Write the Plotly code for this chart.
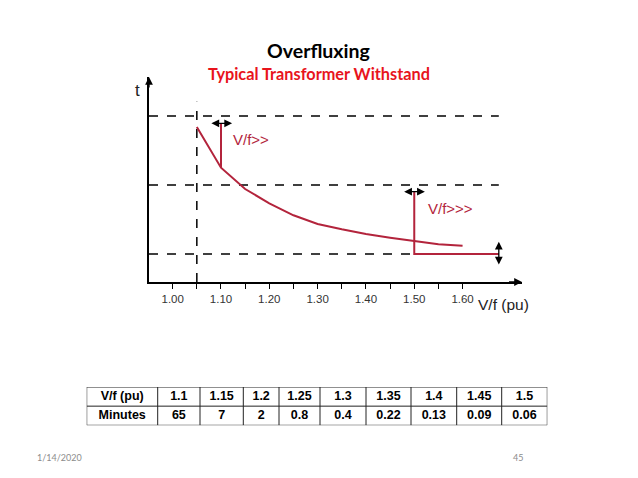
import plotly.graph_objects as go

W, H = 638, 478

# ---- data ----
curve_x = [1.05, 1.10, 1.15, 1.20, 1.25, 1.30, 1.35, 1.40, 1.45, 1.50, 1.55, 1.60]
curve_t = [155.0, 114.3, 93.0, 78.7, 66.7, 58.0, 52.7, 48.0, 44.3, 40.7, 37.7, 36.3]
dash_levels = [166, 97, 28]
dash_x_vert = 1.05
step1_x = 1.10
step1_t = [114.3, 158.7]
step2_x = 1.50
step2_t = [28, 90.3]
step2_end_x = 1.675
tick_vals = [1.00, 1.05, 1.10, 1.15, 1.20, 1.25, 1.30, 1.35, 1.40, 1.45, 1.50, 1.55, 1.60]
tick_text = ["1.00", "", "1.10", "", "1.20", "", "1.30", "", "1.40", "", "1.50", "", "1.60"]

table_vf = ["V/f (pu)", "1.1", "1.15", "1.2", "1.25", "1.3", "1.35", "1.4", "1.45", "1.5"]
table_min = ["Minutes", "65", "7", "2", "0.8", "0.4", "0.22", "0.13", "0.09", "0.06"]
col_widths = [71, 42.3, 43.3, 35.7, 41, 46, 45, 45.7, 45, 45.6]

RED = "#b3243c"
XMIN, XMAX = 0.951, 1.723
YMIN, YMAX = 0, 205

fig = go.Figure()

# dashed guide lines
for lv in dash_levels:
    fig.add_trace(go.Scatter(x=[XMIN, step2_end_x], y=[lv, lv], mode="lines",
                             line=dict(color="black", width=1.5, dash="dash"),
                             hoverinfo="skip", showlegend=False))
fig.add_trace(go.Scatter(x=[dash_x_vert, dash_x_vert], y=[0, 180.3], mode="lines",
                         line=dict(color="black", width=1.5, dash="dash"),
                         hoverinfo="skip", showlegend=False))

# withstand curve
fig.add_trace(go.Scatter(x=curve_x, y=curve_t, mode="lines",
                         line=dict(color=RED, width=2), showlegend=False))
# V/f>> step
fig.add_trace(go.Scatter(x=[step1_x, step1_x], y=step1_t, mode="lines",
                         line=dict(color=RED, width=2), showlegend=False))
# V/f>>> step
fig.add_trace(go.Scatter(x=[step2_x, step2_x, step2_end_x], y=[step2_t[1], step2_t[0], step2_t[0]],
                         mode="lines", line=dict(color=RED, width=2), showlegend=False))

# ---- table on its own axes ----
edges = [0]
for w in col_widths:
    edges.append(edges[-1] + w)
centers = [(edges[i] + edges[i + 1]) / 2 for i in range(len(col_widths))]
total_w = edges[-1]

shapes = []
for e in edges:
    shapes.append(dict(type="line", xref="x2", yref="y2", x0=e, x1=e, y0=0, y1=2,
                       line=dict(color="#222", width=1)))
for r in [0, 1, 2]:
    shapes.append(dict(type="line", xref="x2", yref="y2", x0=0, x1=total_w, y0=r, y1=r,
                       line=dict(color="#222", width=1)))

cell_font = dict(family="Liberation Sans, Arial", size=12.5, color="black")
fig.add_trace(go.Scatter(x=centers, y=[1.5] * len(centers), mode="text",
                         text=["<b>%s</b>" % v for v in table_vf], textposition="middle center",
                         textfont=cell_font, xaxis="x2", yaxis="y2", showlegend=False, hoverinfo="skip"))
fig.add_trace(go.Scatter(x=centers, y=[0.5] * len(centers), mode="text",
                         text=["<b>%s</b>" % v for v in table_min], textposition="middle center",
                         textfont=cell_font, xaxis="x2", yaxis="y2", showlegend=False, hoverinfo="skip"))

ann = []
def arrow2(x0, y0, x1, y1):
    ann.append(dict(x=x1, y=y1, ax=x0, ay=y0, xref="x", yref="y", axref="x", ayref="y",
                    showarrow=True, arrowhead=2, arrowside="end+start", arrowsize=1.2,
                    arrowwidth=1.3, arrowcolor="black", text=""))

arrow2(1.077, 158.7, 1.123, 158.7)
arrow2(1.476, 90.3, 1.522, 90.3)
arrow2(step2_end_x, 16, step2_end_x, 40.3)
# axis arrows
ann.append(dict(x=XMAX, y=0, ax=XMAX - 0.03, ay=0, xref="x", yref="y", axref="x", ayref="y",
                showarrow=True, arrowhead=2, arrowsize=1.2, arrowwidth=1.3, arrowcolor="black", text=""))
ann.append(dict(x=XMIN, y=YMAX, ax=XMIN, ay=YMAX - 12, xref="x", yref="y", axref="x", ayref="y",
                showarrow=True, arrowhead=2, arrowsize=1.2, arrowwidth=1.3, arrowcolor="black", text=""))

ann.append(dict(x=1.162, y=142.7, xref="x", yref="y", text="V/f>>", showarrow=False,
                font=dict(family="Liberation Sans, Arial", size=15, color=RED)))
ann.append(dict(x=1.574, y=73.7, xref="x", yref="y", text="V/f>>>", showarrow=False,
                font=dict(family="Liberation Sans, Arial", size=15, color=RED)))

def pix(x, y, text, size, color, family="Liberation Sans, Arial", xanchor="center"):
    ann.append(dict(x=x / W, y=1 - y / H, xref="paper", yref="paper", text=text, showarrow=False,
                    xanchor=xanchor, yanchor="middle", font=dict(family=family, size=size, color=color)))

pix(503.5, 304, "V/f (pu)", 15.5, "#222")
pix(137, 90, "t", 17, "#222")
pix(318.5, 50, "<b>Overfluxing</b>", 19.5, "black", family="Lato")
pix(318.8, 73, "<b>Typical Transformer Withstand</b>", 16.3, "#e8141c", family="Lato")
pix(35, 457, "1/14/2020", 9, "#8c8c8c", family="Lato", xanchor="left")
pix(525, 457, "45", 9, "#8c8c8c", family="Lato", xanchor="right")

fig.update_layout(
    width=W, height=H, margin=dict(l=0, r=0, t=0, b=0),
    paper_bgcolor="white", plot_bgcolor="white",
    annotations=ann, shapes=shapes,
    xaxis=dict(domain=[149 / W, 522 / W], range=[XMIN, XMAX], showgrid=False, zeroline=False,
               showline=True, linecolor="black", linewidth=1.5,
               tickmode="array", tickvals=tick_vals, ticktext=tick_text,
               ticks="outside", ticklen=5, tickwidth=1, tickcolor="black",
               tickfont=dict(family="Liberation Sans, Arial", size=11.5, color="#333")),
    yaxis=dict(domain=[1 - 282 / H, 1 - 77 / H], range=[YMIN, YMAX], showgrid=False, zeroline=False,
               showline=True, linecolor="black", linewidth=1.5, showticklabels=False, ticks=""),
    xaxis2=dict(domain=[86.7 / W, 547.3 / W], range=[0, total_w], visible=False, anchor="y2"),
    yaxis2=dict(domain=[1 - 425.3 / H, 1 - 387 / H], range=[0, 2], visible=False, anchor="x2"),
)

fig.write_html("out.html")
